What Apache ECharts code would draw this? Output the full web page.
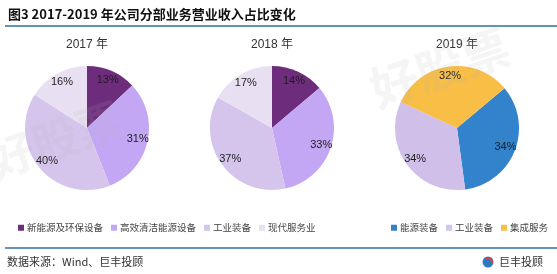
<!DOCTYPE html>
<html>
<head>
<meta charset="utf-8">
<script src="https://cdn.jsdelivr.net/npm/echarts@6/dist/echarts.min.js"></script>
<style>
  html, body { margin: 0; padding: 0; background: #fff; }
  #chart { width: 557px; height: 274px; }
</style>
</head>
<body>
<div id="chart"></div>
<script>
// 分部业务占比（%）
const years = ['2017 年', '2018 年', '2019 年'];
const seg1 = ['新能源及环保设备', '高效清洁能源设备', '工业装备', '现代服务业'];
const v2017 = [13, 31, 40, 16];
const v2018 = [14, 33, 37, 17];
const seg2 = ['能源装备', '工业装备', '集成服务'];
const v2019 = [34, 34, 32];

const col1 = ['#6d2c7c', '#c4a7f4', '#d5c5ec', '#e8e0f2'];
const col2 = ['#3382cc', '#cfbfe9', '#f8be46'];
const CJK = '"Liberation Sans", "Noto Sans CJK SC", sans-serif';

const pies = [
  { c: [87, 128], names: seg1, vals: v2017, cols: col1, start: 90 },
  { c: [272, 128], names: seg1, vals: v2018, cols: col1, start: 90 },
  { c: [457, 128], names: seg2, vals: v2019, cols: col2, start: 40 }
];

const series = [];
pies.forEach(p => {
  series.push({
    type: 'pie', center: p.c, radius: [0, 62], startAngle: p.start, clockwise: true,
    silent: true, label: { show: false }, labelLine: { show: false },
    data: p.names.map((n, i) => ({ name: n, value: p.vals[i], itemStyle: { color: p.cols[i] } }))
  });
});
// 标签放在 0.8 半径处：用透明环叠一层
pies.forEach(p => {
  series.push({
    type: 'pie', center: p.c, radius: [36, 62], startAngle: p.start, silent: true,
    itemStyle: { color: 'rgba(0,0,0,0)' },
    label: { show: true, position: 'inside', formatter: '{c}%', color: '#1e1e1e', fontSize: 11, fontFamily: 'Liberation Sans' },
    labelLine: { show: false },
    data: p.vals.map(v => ({ value: v }))
  });
});

// 水印
const wm = (x, y, s) => ({
  type: 'text', x: x, y: y, rotation: 0.33, z: 100, silent: true,
  style: { text: '好股票', font: 'bold ' + s + 'px "Noto Sans CJK SC"', fill: 'rgba(180,180,180,0.13)', textAlign: 'center', textVerticalAlign: 'middle' }
});

const c = echarts.init(document.getElementById('chart'));
c.setOption({
  backgroundColor: '#fff',
  animation: false,
  legend: [
    { data: seg1, left: 13, top: 218, icon: 'rect', itemWidth: 6, itemHeight: 6, itemGap: 8, selectedMode: false,
      textStyle: { fontSize: 9.5, color: '#444', fontFamily: '"Noto Sans CJK SC"', padding: [0, 0, 0, -2] } },
    { data: seg2, left: 386, top: 218, icon: 'rect', itemWidth: 6, itemHeight: 6, itemGap: 8, selectedMode: false,
      textStyle: { fontSize: 9.5, color: '#444', fontFamily: '"Noto Sans CJK SC"', padding: [0, 0, 0, -2] } }
  ],
  graphic: [
    { type: 'text', x: 8, y: 14, style: { text: '图3 2017-2019 年公司分部业务营业收入占比变化', font: 'bold 13px "Noto Sans CJK SC"', fill: '#111', textVerticalAlign: 'middle' } },
    { type: 'line', shape: { x1: 5, y1: 26, x2: 557, y2: 26 }, style: { stroke: '#2f6f9f', lineWidth: 1.3 } },
    { type: 'line', shape: { x1: 5, y1: 248, x2: 557, y2: 248 }, style: { stroke: '#2f6f9f', lineWidth: 1.3 } },
    ...pies.map((p, i) => ({ type: 'text', x: p.c[0], y: 45, style: { text: years[i], font: '12px ' + CJK, fill: '#333', textAlign: 'center', textVerticalAlign: 'middle' } })),
    { type: 'text', x: 7, y: 262, style: { text: '数据来源：Wind、巨丰投顾', font: '11px "Noto Sans CJK SC"', fill: '#333', textVerticalAlign: 'middle' } },
    { type: 'circle', shape: { cx: 488, cy: 262, r: 5.5 }, style: { fill: '#2f78c4' } },
    { type: 'arc', shape: { cx: 488, cy: 262, r: 4, startAngle: -2.2, endAngle: 0.2 }, style: { stroke: '#e23b3b', lineWidth: 2, fill: null } },
    { type: 'text', x: 499, y: 262, style: { text: '巨丰投顾', font: '11px "Noto Sans CJK SC"', fill: '#333', textVerticalAlign: 'middle' } },
    wm(55, 140, 46), wm(440, 68, 48)
  ],
  series: series
});
</script>
</body>
</html>
